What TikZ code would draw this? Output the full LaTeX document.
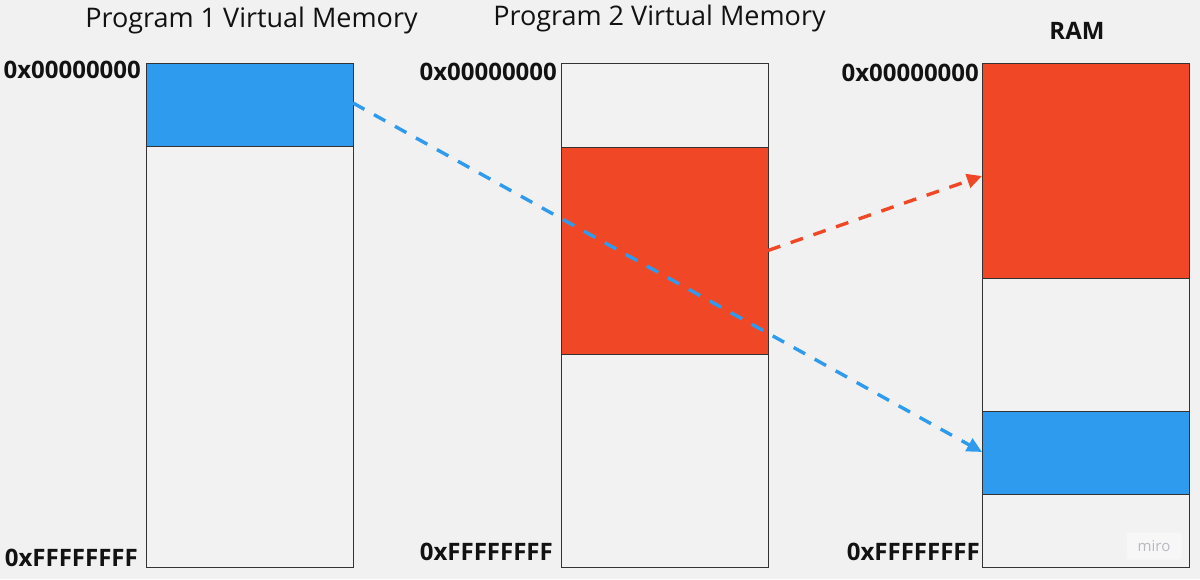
\documentclass[tikz,border=0pt]{standalone}
\usepackage{fontspec}
\setmainfont{Open Sans}
\usetikzlibrary{arrows.meta}
\definecolor{bgc}{HTML}{F1F1F1}
\definecolor{boxc}{HTML}{F2F2F2}
\definecolor{memblue}{HTML}{2E9BEF}
\definecolor{memred}{HTML}{F04826}
\definecolor{edgec}{HTML}{333333}
\definecolor{miroc}{HTML}{B9B9C2}
\tikzset{
  membox/.style={draw=edgec, line width=0.9pt, fill=boxc, inner sep=0pt, outer sep=0pt,
    minimum width=207pt, minimum height=504pt, anchor=north west},
  seg/.style={draw=edgec, line width=0.9pt, inner sep=0pt, outer sep=0pt,
    minimum width=207pt, anchor=north west},
  addr/.style={font=\fontsize{24}{28}\selectfont\bfseries, text=black!93, inner sep=0pt, anchor=base east},
  title/.style={font=\fontsize{27}{32}\selectfont, text=black!93, inner sep=0pt, anchor=base},
  maparrow/.style={line width=3.4pt, dash pattern=on 13pt off 11pt,
    -{Triangle[length=15pt,width=14pt]}, shorten >=0pt}
}
\begin{document}
\begin{tikzpicture}[x=1pt,y=-1pt]
\fill[bgc] (0,0) rectangle (1200,579);
\useasboundingbox (0,0) rectangle (1200,579);

% titles
\node[title] (t1) at (251.5,27) {Program 1 Virtual Memory};
\node[title] (t2) at (659.5,25) {Program 2 Virtual Memory};
\node[title, font=\fontsize{24}{28}\selectfont\bfseries] (t3) at (1077,39) {RAM};

% memory boxes
\node[membox] (m1) at (146,63) {};
\node[membox] (m2) at (561,63) {};
\node[membox] (m3) at (982,63) {};

% segments
\node[seg, fill=memblue, minimum height=83pt] (b1) at (146,63) {};
\node[seg, fill=memred, minimum height=207pt] (r2) at (561,147) {};
\node[seg, fill=memred, minimum height=215pt] (r3) at (982,63) {};
\node[seg, fill=memblue, minimum height=83pt] (b3) at (982,411) {};

% address labels
\node[addr] (a1) at (141,78) {0x00000000};
\node[addr] (a2) at (557,80) {0x00000000};
\node[addr] (a3) at (979,81) {0x00000000};
\node[addr] (f1) at (138,566) {0xFFFFFFFF};
\node[addr] (f2) at (553,560) {0xFFFFFFFF};
\node[addr] (f3) at (980,560) {0xFFFFFFFF};

% watermark
\node[fill=black!3, rounded corners=2pt, minimum width=55pt, minimum height=27pt, inner sep=0pt,
  text=miroc, font=\fontsize{15}{18}\selectfont] (miro) at (1154,546) {miro};

% mapping arrows
\draw[maparrow, memblue] ([yshift=1.5pt]b1.east) -- ([yshift=0.5pt]b3.west);
\draw[maparrow, memred] (r2.east) -- ([yshift=-5.5pt]r3.west);
\end{tikzpicture}
\end{document}
